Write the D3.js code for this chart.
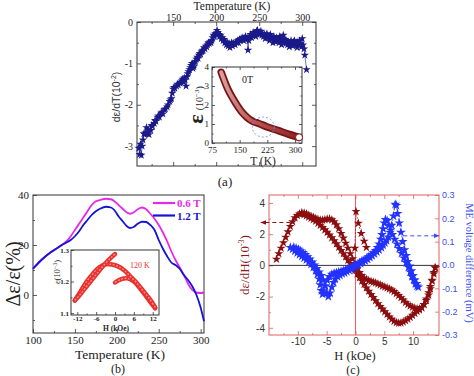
<!DOCTYPE html>
<html><head><meta charset="utf-8">
<script src="https://cdnjs.cloudflare.com/ajax/libs/d3/7.8.5/d3.min.js"></script>
<style>
body{margin:0;background:#fff;}
svg{display:block;}
</style></head><body><div id="chart"></div>
<script>
var width = 474, height = 376;
var serif = "'Liberation Serif','Times New Roman',serif";
var sans = "'Liberation Sans',Arial,sans-serif";

// ---------- panel (a) : de/dT vs temperature
var a_temp = [110,111,112,113,114,115,116,117,118,119,120,121,122,124,125,126,128,129,130,132,133,134,136,137,138,140,141,143,144,146,147,148,149,150,151,152,154,155,156,158,159,160,161,162,163,164,165,166,167,168,169,170,171,172,173,174,175,176,177,178,179,180,181,182,183,184,185,186,187,188,189,190,191,192,193,194,195,196,197,198,199,200,201,202,203,204,205,206,207,208,209,210,211,212,213,214,215,216,217,218,219,220,222,223,224,225,226,227,228,229,230,231,232,233,234,235,236,237,238,239,240,241,242,243,244,245,246,247,248,249,250,251,252,253,254,255,256,257,258,259,260,261,262,263,264,265,266,267,268,269,270,271,272,273,274,275,276,277,278,279,280,281,282,283,284,285,286,287,288,289,290,291,292,293,294,295,296,297,298,299,300,301,302,303,305];
var a_dedt = [-3.05,-3.2,-2.95,-3.22,-3.0,-2.85,-2.7,-2.72,-2.68,-2.55,-2.7,-2.6,-2.72,-2.62,-2.5,-2.52,-2.45,-2.38,-2.4,-2.3,-2.27,-2.3,-2.2,-2.18,-2.22,-2.12,-2.1,-2.05,-2.0,-1.92,-1.88,-1.85,-1.72,-1.62,-1.58,-1.6,-1.55,-1.5,-1.52,-1.48,-1.45,-1.42,-1.38,-1.45,-1.35,-1.4,-1.55,-1.32,-1.25,-1.2,-1.15,-1.1,-1.05,-1.0,-1.12,-1.08,-0.98,-0.95,-0.9,-0.85,-0.88,-0.8,-0.76,-0.78,-0.72,-0.7,-0.68,-0.62,-0.65,-0.58,-0.6,-0.55,-0.5,-0.52,-0.48,-0.5,-0.45,-0.38,-0.32,-0.35,-0.28,-0.3,-0.2,-0.25,-0.3,-0.35,-0.32,-0.4,-0.38,-0.45,-0.42,-0.5,-0.48,-0.55,-0.5,-0.58,-0.52,-0.62,-0.55,-0.5,-0.58,-0.52,-0.55,-0.48,-0.5,-0.45,-0.5,-0.42,-0.45,-0.4,-0.42,-0.38,-0.45,-0.4,-0.35,-0.42,-0.38,-0.68,-0.45,-0.35,-0.3,-0.38,-0.32,-0.25,-0.3,-0.28,-0.35,-0.22,-0.2,-0.28,-0.25,-0.3,-0.22,-0.32,-0.28,-0.35,-0.3,-0.4,-0.32,-0.28,-0.38,-0.35,-0.45,-0.3,-0.4,-0.38,-0.5,-0.35,-0.42,-0.48,-0.38,-0.45,-0.4,-0.5,-0.35,-0.45,-0.55,-0.4,-0.32,-0.48,-0.42,-0.52,-0.45,-0.55,-0.48,-0.6,-0.5,-0.45,-0.52,-0.58,-0.48,-0.45,-0.55,-0.5,-0.62,-0.48,-0.55,-0.45,-0.52,-0.6,-0.4,-0.55,-0.65,-0.8,-1.15];
// inset (a) : strain at 0 T
var ai_temp = [100,119,137,155,170,180,190,200,223,255,282,311];
var ai_eps  = [3.72,2.79,2.17,1.65,1.35,1.2,1.1,1.04,0.86,0.65,0.47,0.3];

// ---------- panel (b) : relative change vs temperature
var b_temp = [100,110,120,130,135,140,145,150,155,160,165,170,175,180,187,193,197,202,207,212,216,220,225,230,235,240,245,250,255,260,265,270,275,280,285,290,295,300,304];
var b_06T  = [10.5,14,16.8,19,20.2,21.5,23.5,26,28.5,31,33.5,36,37.5,38,38.5,38.3,37.5,36,34.5,33,32.5,33,34.3,35,34.3,32.5,30.5,28,25,21.5,17.5,14,11,8,4.5,2,1,0.8,1];
var b_12T  = [10.5,14,16.8,19,20.1,21,22,23.5,25.5,28,30,32,33.5,34.5,35.3,35,34,31.5,29.5,27.5,26.8,27.2,28.5,29.3,29.2,28,26,22,18.5,15.5,13,12,10.5,8,6,3.5,0,-5,-10.5];
var b_names = ["0.6 T","1.2 T"];
// inset (b) : strain vs field at 120 K
var bi_h1 = [0,2,4,6,8,10,12,12.8];
var bi_e1 = [1.197,1.208,1.21,1.2,1.178,1.152,1.125,1.115];
var bi_h2 = [12.8,11,9,7,5,3,1,-1,-3,-5,-7,-9,-11,-12.8];
var bi_e2 = [1.118,1.145,1.17,1.195,1.215,1.235,1.248,1.254,1.255,1.245,1.225,1.2,1.168,1.14];
var bi_h3 = [-12.8,-11,-9,-7,-5,-3,-1,0];
var bi_e3 = [1.14,1.16,1.185,1.21,1.235,1.258,1.278,1.287];

// ---------- panel (c) : de/dH (left) and ME voltage difference (right)
var c_r1_h = [-13.7,-13.3,-12.9,-12.5,-12.1,-11.7,-11.3,-10.9,-10.5,-10.1,-9.7,-9.3,-8.9,-8.5,-8.1,-7.7,-7.3,-6.9,-6.5,-6.1,-5.7,-5.3,-4.9,-4.5,-4.1,-3.7,-3.3,-2.9,-2.5,-2.1,-1.7,-1.3,-0.9,-0.5,-0.1,0.3,0.7,1.1,1.5,1.9,2.3,2.7,3.1,3.5,3.9,4.3,4.7,5.1,5.5,5.9,6.3,6.7,7.1,7.5,7.9,8.3,8.7,9.1,9.5,9.9,10.3,10.7,11.1,11.5,11.9,12.3,12.7,13.0,13.3,13.6,13.9];
var c_r1_v = [0.4,0.75,1.1,1.45,1.8,2.15,2.5,2.8,3.05,3.2,3.3,3.38,3.35,3.3,3.22,3.15,3.08,3.0,2.95,2.9,2.9,2.93,2.97,2.98,2.92,2.8,2.6,2.35,2.05,1.75,1.42,1.1,0.75,0.42,0.1,-0.2,-0.45,-0.65,-0.8,-0.9,-0.97,-1.02,-1.07,-1.12,-1.18,-1.25,-1.32,-1.38,-1.44,-1.5,-1.58,-1.68,-1.8,-1.93,-2.07,-2.22,-2.37,-2.5,-2.6,-2.68,-2.74,-2.78,-2.78,-2.7,-2.5,-2.15,-1.75,-1.35,-0.95,-0.55,-0.15];
var c_r2_h = [-9.3,-8.9,-8.5,-8.1,-7.7,-7.3,-6.9,-6.5,-6.1,-5.7,-5.3,-4.9,-4.5,-4.1,-3.7,-3.3,-2.9,-2.5,-2.1,-1.7,-1.3,-0.9,-0.5,-0.1,0.3,0.7,1.1,1.5,1.9,2.3,2.7,3.1,3.5,3.9,4.3,4.7,5.1,5.5,5.9,6.3,6.7,7.1,7.5,7.9,8.3,8.7,9.1,9.5,9.9,10.3,10.7,11.1,11.5,11.9,12.3,12.7,13.0,13.3,13.6,13.8];
var c_r2_v = [3.3,3.25,3.18,3.1,3.02,2.93,2.83,2.7,2.57,2.43,2.28,2.12,1.95,1.77,1.58,1.38,1.17,0.96,0.75,0.54,0.33,0.12,-0.1,-0.32,-0.55,-0.78,-1.0,-1.22,-1.44,-1.65,-1.86,-2.06,-2.26,-2.45,-2.63,-2.8,-2.97,-3.13,-3.3,-3.45,-3.58,-3.66,-3.7,-3.68,-3.62,-3.54,-3.44,-3.33,-3.2,-3.07,-2.95,-2.85,-2.7,-2.5,-2.25,-1.9,-1.5,-1.0,-0.45,-0.15];
var c_r3_h = [-0.1,0.1,0.5,1.0,1.5,1.9];
var c_r3_v = [1.1,3.45,2.7,2.05,1.55,1.15];
var c_b1_h = [-11.3,-10.9,-10.5,-10.1,-9.7,-9.3,-8.9,-8.5,-8.1,-7.7,-7.3,-6.9,-6.6,-6.3,-6.1,-5.9,-5.7,-5.5,-5.2,-4.9,-4.5,-4.1,-3.7,-3.3,-2.9,-2.5,-2.1,-1.7,-1.3,-0.9,-0.5,-0.1,0.3,0.7,1.1,1.5,1.9,2.3,2.7,3.1,3.5,3.8,4.1,4.4,4.6,4.8,5.0,5.2,5.5,5.8,6.1,6.4,6.8,7.2,7.6,8.0,8.4,8.8,9.2,9.5,9.8,10.1,10.4,10.7];
var c_b1_v = [0.075,0.068,0.06,0.052,0.045,0.037,0.03,0.022,0.013,0.003,-0.01,-0.025,-0.04,-0.06,-0.085,-0.11,-0.125,-0.115,-0.09,-0.065,-0.05,-0.04,-0.035,-0.033,-0.03,-0.027,-0.024,-0.02,-0.016,-0.012,-0.007,-0.002,0.004,0.01,0.016,0.022,0.028,0.035,0.043,0.052,0.062,0.075,0.09,0.11,0.13,0.155,0.18,0.195,0.19,0.17,0.15,0.13,0.11,0.09,0.07,0.05,0.03,0.01,-0.01,-0.03,-0.05,-0.065,-0.08,-0.09];
var c_b2_h = [10.9,10.6,10.3,10.0,9.7,9.4,9.1,8.8,8.5,8.2,7.9,7.6,7.3,7.1,6.9,6.6,6.3,6.0,5.7,5.4,5.1,4.8,4.5,4.1,3.7,3.3,2.9,2.5,2.1,1.7,1.3,0.9,0.5,0.1,-0.3,-0.7,-1.1,-1.5,-1.9,-2.3,-2.7,-3.1,-3.5,-3.8,-4.1,-4.4,-4.7,-5.0,-5.3,-5.6,-5.9,-6.3,-6.7,-7.1,-7.5,-7.9,-8.3,-8.7,-9.1,-9.5,-9.9,-10.3,-10.7];
var c_b2_v = [-0.095,-0.08,-0.065,-0.045,-0.025,-0.005,0.015,0.04,0.065,0.1,0.14,0.18,0.22,0.255,0.26,0.21,0.17,0.14,0.12,0.105,0.095,0.085,0.075,0.065,0.057,0.048,0.04,0.033,0.025,0.018,0.012,0.006,0.0,-0.006,-0.012,-0.018,-0.023,-0.028,-0.033,-0.038,-0.044,-0.05,-0.06,-0.075,-0.095,-0.12,-0.135,-0.12,-0.09,-0.065,-0.045,-0.03,-0.015,0.0,0.012,0.025,0.035,0.045,0.053,0.06,0.067,0.072,0.076];

var svg = d3.select("#chart").append("svg")
            .attr("width",width)
            .attr("height",height);
svg.append("rect").attr("width",width).attr("height",height).attr("fill","#fff");

var defs = svg.append("defs");
function add_arrow(id,color){
	defs.append("marker").attr("id",id)
	    .attr("viewBox","0 0 10 10").attr("refX",9).attr("refY",5)
	    .attr("markerWidth",6).attr("markerHeight",6).attr("orient","auto")
	    .append("path").attr("d","M0,1 L10,5 L0,9 Z").attr("fill",color);
}
add_arrow("arr_red","#8b1010");
add_arrow("arr_blue","#3a4cf0");

function no_label(){ return ""; }
function plain(d){ return String(d); }
function one_dec(d){ return d.toFixed(1); }

// inward ticks, optional minor ticks
function axis(scale, orient, at, major, minor, fmt, o){
	var mk = orient=="bottom" ? d3.axisBottom : orient=="top" ? d3.axisTop : orient=="left" ? d3.axisLeft : d3.axisRight;
	var tr = (orient=="bottom"||orient=="top") ? "translate(0,"+at+")" : "translate("+at+",0)";
	var len = o.len||4;
	var g = svg.append("g").attr("transform",tr)
	           .call(mk(scale).tickValues(major).tickSize(-len).tickPadding(o.pad||3).tickFormat(fmt||no_label));
	g.select(".domain").remove();
	g.selectAll("line").attr("stroke",o.color||"#333").attr("stroke-width",0.8);
	g.selectAll("text").attr("fill",o.text||"#222")
	 .style("font-family",o.font||serif).style("font-size",(o.fs||11)+"px")
	 .style("font-weight",o.bold?"bold":"normal");
	if(minor){
		var m = svg.append("g").attr("transform",tr)
		           .call(mk(scale).tickValues(minor).tickSize(-len/2).tickFormat(no_label));
		m.select(".domain").remove();
		m.selectAll("line").attr("stroke",o.color||"#333").attr("stroke-width",0.8);
	}
	return g;
}

function frame(x,y,color,fill){
	return svg.append("rect")
	   .attr("x",x.range()[0]).attr("y",y.range()[1])
	   .attr("width",x.range()[1]-x.range()[0]).attr("height",y.range()[0]-y.range()[1])
	   .attr("fill",fill||"none").attr("stroke",color||"#333").attr("stroke-width",1);
}

function label(x,y,txt,size,o){
	o = o||{};
	var t = svg.append("text")
	   .attr("transform","translate("+x+","+y+")"+(o.rot?" rotate("+o.rot+")":""))
	   .attr("text-anchor",o.anchor||"middle")
	   .attr("fill",o.color||"#222")
	   .style("font-family",o.font||serif)
	   .style("font-size",size+"px")
	   .style("font-weight",o.bold?"bold":"normal");
	t.text(txt);
	return t;
}

function pairs(xs,ys){ return xs.map(function(d,i){ return [d,ys[i]]; }); }

// =========================== (a)
var xa = d3.scaleLinear().domain([108,316]).range([137,316]);
var ya = d3.scaleLinear().domain([-3.48,0]).range([166,22]);
frame(xa,ya,"#333");
axis(xa,"top",22,[150,200,250,300],[125,175,225,275],plain,{fs:10,pad:1});
axis(xa,"bottom",166,[150,200,250,300],[125,175,225,275],no_label,{});
axis(ya,"left",137,[0,-1,-2,-3],[-0.5,-1.5,-2.5],plain,{fs:10,pad:4});
axis(ya,"right",316,[0,-1,-2,-3],[-0.5,-1.5,-2.5],no_label,{});

var a_pts = pairs(a_temp,a_dedt);
svg.append("path").datum(a_pts)
   .attr("d",d3.line().x(function(d){return xa(d[0]);}).y(function(d){return ya(d[1]);}))
   .attr("fill","none").attr("stroke","#1a1a8a").attr("stroke-width",0.6);
svg.append("g").selectAll("path").data(a_pts).enter().append("path")
   .attr("transform",function(d){ return "translate("+xa(d[0])+","+ya(d[1])+")"; })
   .attr("d",d3.symbol().type(d3.symbolStar).size(22))
   .attr("fill","#1a1a8a");

label(232,10,"Temperature (K)",11.5);
var yla = label(120,97,"dε/dT(10",10.5,{rot:-90,font:sans,color:"#333"});
yla.append("tspan").attr("dy",-4).style("font-size","7px").text("-2");
yla.append("tspan").attr("dy",4).text(")");
label(225,186,"(a)",13);

// inset (a)
var xai = d3.scaleLinear().domain([75,319]).range([212,302]);
var yai = d3.scaleLinear().domain([0,4]).range([143,67]);
frame(xai,yai,"#333","#fff");
axis(xai,"bottom",143,[75,150,225,300],[112.5,187.5,262.5],plain,{fs:9,len:3,pad:4});
axis(xai,"top",67,[75,150,225,300],[112.5,187.5,262.5],no_label,{len:3});
axis(yai,"left",212,[0,1,2,3,4],[0.5,1.5,2.5,3.5],plain,{fs:9,len:3,pad:3});
axis(yai,"right",302,[0,1,2,3,4],[0.5,1.5,2.5,3.5],no_label,{len:3});

var grad = defs.append("linearGradient").attr("id","band")
   .attr("gradientUnits","userSpaceOnUse")
   .attr("x1",xai(100)).attr("x2",xai(311)).attr("y1",0).attr("y2",0);
grad.append("stop").attr("offset","0%").attr("stop-color","#d9a0a0");
grad.append("stop").attr("offset","40%").attr("stop-color","#b85a5a");
grad.append("stop").attr("offset","100%").attr("stop-color","#8e2020");
var ai_line = d3.line().curve(d3.curveCatmullRom)
   .x(function(d){return xai(d[0]);}).y(function(d){return yai(d[1]);});
var ai_pts = pairs(ai_temp,ai_eps);
svg.append("path").datum(ai_pts).attr("d",ai_line)
   .attr("fill","none").attr("stroke","#7a1414").attr("stroke-width",7.5).attr("stroke-linecap","round");
svg.append("path").datum(ai_pts).attr("d",ai_line)
   .attr("fill","none").attr("stroke","url(#band)").attr("stroke-width",4).attr("stroke-linecap","round");
var last = ai_pts[ai_pts.length-1];
svg.append("circle").attr("cx",xai(last[0])).attr("cy",yai(last[1])).attr("r",3.5)
   .attr("fill","#fff").attr("stroke","#7a1414").attr("stroke-width",1);
svg.append("ellipse").attr("cx",xai(214)).attr("cy",yai(0.84)).attr("rx",11).attr("ry",10)
   .attr("fill","none").attr("stroke","#7080e0").attr("stroke-width",0.8).attr("stroke-dasharray","2,2");

label(242,83,"0T",10,{anchor:"start"});
label(263,165,"T (K)",11.5);
var yli = svg.append("text").attr("transform","translate(203,105) rotate(-90)")
   .attr("text-anchor","middle").attr("fill","#222").style("font-family",serif);
yli.append("tspan").style("font-size","22px").style("font-weight","bold").text("ε");
yli.append("tspan").style("font-size","10px").attr("dx",4).text("(10");
yli.append("tspan").style("font-size","7px").attr("dy",-4).text("−3");
yli.append("tspan").style("font-size","10px").attr("dy",4).text(")");

// =========================== (b)
var xb = d3.scaleLinear().domain([100,304]).range([33,204]);
var yb = d3.scaleLinear().domain([-15.2,40]).range([333,195]);
frame(xb,yb,"#333");
axis(xb,"bottom",333,[100,150,200,250,300],[125,175,225,275],plain,{fs:11,pad:3});
axis(yb,"left",33,[0,20,40],[-10,10,30],plain,{fs:11,pad:4});

var b_colors = ["#e828e8","#1414d8"];
var b_series = [b_06T,b_12T];
var lb = d3.line().curve(d3.curveMonotoneX)
   .x(function(d){return xb(d[0]);}).y(function(d){return yb(d[1]);});
b_series.forEach(function(s,i){
	svg.append("path").datum(pairs(b_temp,s)).attr("d",lb)
	   .attr("fill","none").attr("stroke",b_colors[i]).attr("stroke-width",1.8);
});
b_names.forEach(function(n,i){
	var yy = 203 + i*12.5;
	svg.append("line").attr("x1",153).attr("x2",175).attr("y1",yy).attr("y2",yy)
	   .attr("stroke",b_colors[i]).attr("stroke-width",2.2);
	label(177,yy+4,n,11,{anchor:"start",bold:true,color:b_colors[i]});
});
label(20,274,"Δε/ε(%)",20,{rot:-90});
label(120,359,"Temperature (K)",13.5);
label(118,373,"(b)",12);

// inset (b)
var xbi = d3.scaleLinear().domain([-14,14]).range([71,159]);
var ybi = d3.scaleLinear().domain([1.094,1.3]).range([315,250]);
frame(xbi,ybi,"#333","#fff");
axis(xbi,"bottom",315,[-12,-6,0,6,12],[-9,-3,3,9],plain,{fs:7,len:3,pad:1,bold:true});
axis(ybi,"left",71,[1.1,1.2,1.3],[1.15,1.25],one_dec,{fs:7,len:3,pad:2,bold:true});
var lbi = d3.line().curve(d3.curveCatmullRom)
   .x(function(d){return xbi(d[0]);}).y(function(d){return ybi(d[1]);});
[pairs(bi_h1,bi_e1),pairs(bi_h2,bi_e2),pairs(bi_h3,bi_e3)].forEach(function(p){
	svg.append("path").datum(p).attr("d",lbi)
	   .attr("fill","none").attr("stroke","#e8302c").attr("stroke-width",4.5).attr("stroke-linecap","round");
	svg.append("path").datum(p).attr("d",lbi)
	   .attr("fill","none").attr("stroke","#f59090").attr("stroke-width",1.4)
	   .attr("stroke-dasharray","2,1.5");
});
label(140,268,"120 K",8,{color:"#e8302c"});
label(116,330.5,"H (kOe)",7.5,{bold:true});
var ylbi = svg.append("text").attr("transform","translate(60,272) rotate(-90)")
   .attr("text-anchor","middle").attr("fill","#222").style("font-family",serif).style("font-size","8.5px");
ylbi.append("tspan").text("ε(10");
ylbi.append("tspan").attr("dy",-3).style("font-size","6px").text("−3");
ylbi.append("tspan").attr("dy",3).text(")");

// =========================== (c)
var xc = d3.scaleLinear().domain([-15,14.5]).range([269,439]);
var yc = d3.scaleLinear().domain([-4.46,4.51]).range([335,195]);
var yc2 = d3.scaleLinear().domain([-0.3,0.3]).range([335,195]);
var c_frame = "#e06060";
axis(xc,"bottom",335,[-10,-5,0,5,10],[-12.5,-7.5,-2.5,2.5,7.5,12.5],plain,{fs:10,font:sans,color:c_frame,text:"#333",pad:3});
axis(xc,"top",195,[-10,-5,0,5,10],[-12.5,-7.5,-2.5,2.5,7.5,12.5],no_label,{color:c_frame});
axis(yc,"left",269,[-4,-2,0,2,4],[-3,-1,1,3],plain,{fs:10,font:sans,color:c_frame,text:"#333",pad:4});
axis(yc2,"right",439,[-0.3,-0.2,-0.1,0,0.1,0.2,0.3],null,one_dec,{fs:9,font:sans,color:c_frame,text:"#3a4cf0",pad:3});
frame(xc,yc,c_frame);
svg.append("line").attr("x1",xc.range()[0]).attr("x2",xc.range()[1])
   .attr("y1",yc(0)).attr("y2",yc(0)).attr("stroke","#333").attr("stroke-width",1);
svg.append("line").attr("x1",xc(0)).attr("x2",xc(0))
   .attr("y1",yc.range()[0]).attr("y2",yc.range()[1]).attr("stroke","#e05a5a").attr("stroke-width",1);

function star_series(hs,vs,ys,color,size){
	var p = pairs(hs,vs);
	svg.append("path").datum(p)
	   .attr("d",d3.line().x(function(d){return xc(d[0]);}).y(function(d){return ys(d[1]);}))
	   .attr("fill","none").attr("stroke",color).attr("stroke-width",0.7).attr("stroke-dasharray","2,1.5");
	svg.append("g").selectAll("path").data(p).enter().append("path")
	   .attr("transform",function(d){ return "translate("+xc(d[0])+","+ys(d[1])+")"; })
	   .attr("d",d3.symbol().type(d3.symbolStar).size(size))
	   .attr("fill",color);
}
star_series(c_r1_h,c_r1_v,yc,"#8b0e0e",26);
star_series(c_r2_h,c_r2_v,yc,"#8b0e0e",26);
star_series(c_r3_h,c_r3_v,yc,"#8b0e0e",26);
star_series(c_b1_h,c_b1_v,yc2,"#2233ff",30);
star_series(c_b2_h,c_b2_v,yc2,"#2233ff",30);

svg.append("line").attr("x1",xc(-11.3)).attr("x2",xc(-16.4)).attr("y1",yc(2.75)).attr("y2",yc(2.75))
   .attr("stroke","#8b1010").attr("stroke-width",1).attr("stroke-dasharray","4,3")
   .attr("marker-end","url(#arr_red)");
svg.append("line").attr("x1",xc(8.3)).attr("x2",xc(14.5)).attr("y1",yc2(0.125)).attr("y2",yc2(0.125))
   .attr("stroke","#3a4cf0").attr("stroke-width",1).attr("stroke-dasharray","4,3")
   .attr("marker-end","url(#arr_blue)");

var ylc = label(249,265,"dε/dH(10",13,{rot:-90,color:"#8b1a1a"});
ylc.append("tspan").attr("dy",-5).style("font-size","8px").text("-3");
ylc.append("tspan").attr("dy",5).text(")");
label(466,263,"ME voltage difference (mV)",10.5,{rot:90,color:"#3a4cf0"});
label(355,360,"H (kOe)",12.5);
label(353,374,"(c)",12);
</script></body></html>
